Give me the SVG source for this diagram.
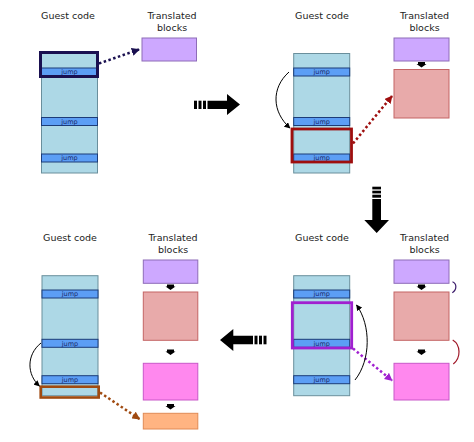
<svg xmlns="http://www.w3.org/2000/svg" width="474" height="442" viewBox="0 0 474 442">
<defs>
<style>
.lbl{font-family:"DejaVu Sans",sans-serif;font-size:9.5px;fill:#222;text-anchor:middle}
.jt{font-family:"DejaVu Sans",sans-serif;font-size:6.5px;fill:#1a2a6a;text-anchor:middle}
.col{fill:#add8e6;stroke:#6a8f9c;stroke-width:1}
.jmp{fill:#5c9ef5;stroke:#1c3c78;stroke-width:1}
.tb1{fill:#cda8ff;stroke:#8e6cb8;stroke-width:1}
.tb2{fill:#e8aaaa;stroke:#c46464;stroke-width:1}
.tb3{fill:#ff88ee;stroke:#c858c8;stroke-width:1}
.tb4{fill:#ffb482;stroke:#e08a55;stroke-width:1}
.dot{fill:none;stroke-width:2.5;stroke-dasharray:2.5 2.5}
.thin{fill:none;stroke:#000;stroke-width:1}
.big{fill:#000}
</style>
<marker id="mNavy" viewBox="0 0 10 10" refX="9" refY="5" markerWidth="8" markerHeight="8" markerUnits="userSpaceOnUse" orient="auto"><path d="M0,0 L10,5 L0,10 Z" fill="#1a1050"/></marker>
<marker id="mRed" viewBox="0 0 10 10" refX="9" refY="5" markerWidth="8" markerHeight="8" markerUnits="userSpaceOnUse" orient="auto"><path d="M0,0 L10,5 L0,10 Z" fill="#9e0e0e"/></marker>
<marker id="mBrown" viewBox="0 0 10 10" refX="9" refY="5" markerWidth="8" markerHeight="8" markerUnits="userSpaceOnUse" orient="auto"><path d="M0,0 L10,5 L0,10 Z" fill="#a04a10"/></marker>
<marker id="mPurp" viewBox="0 0 10 10" refX="9" refY="5" markerWidth="8" markerHeight="8" markerUnits="userSpaceOnUse" orient="auto"><path d="M0,0 L10,5 L0,10 Z" fill="#a020d0"/></marker>
<marker id="mBlk" viewBox="0 0 10 10" refX="9" refY="5" markerWidth="6" markerHeight="6" markerUnits="userSpaceOnUse" orient="auto"><path d="M0,0 L10,5 L0,10 Z" fill="#000"/></marker>
<path id="sa" d="M-3.5,-2.5 H3.5 V-0.5 H5 L0,3 L-5,-0.5 H-3.5 Z" fill="#000"/>
</defs>

<!-- Panel 1 -->
<g id="panel1">
<text class="lbl" x="68" y="19">Guest code</text>
<text class="lbl" x="172" y="19">Translated</text>
<text class="lbl" x="172" y="31">blocks</text>
<g id="guest1">
<rect class="col" x="41.5" y="53.5" width="56" height="119.5"/>
<rect class="jmp" x="41.5" y="68" width="56" height="8"/><text class="jt" x="69.5" y="74.3">jump</text>
<rect class="jmp" x="41.5" y="117.5" width="56" height="8"/><text class="jt" x="69.5" y="123.8">jump</text>
<rect class="jmp" x="41.5" y="154" width="56" height="8"/><text class="jt" x="69.5" y="160.3">jump</text>
<rect x="40.5" y="52.5" width="57" height="24" fill="none" stroke="#1a1050" stroke-width="3"/>
</g>
<g id="tb1a"><rect class="tb1" x="142" y="38" width="54.5" height="23"/></g>
</g>

<!-- Panel 2 -->
<g id="panel2">
<text class="lbl" x="322" y="19">Guest code</text>
<text class="lbl" x="424.5" y="19">Translated</text>
<text class="lbl" x="424.5" y="31">blocks</text>
<g id="guest2">
<rect class="col" x="293.7" y="53.5" width="56" height="119.5"/>
<rect class="jmp" x="293.7" y="68" width="56" height="8"/><text class="jt" x="321.7" y="74.3">jump</text>
<rect class="jmp" x="293.7" y="117.5" width="56" height="8"/><text class="jt" x="321.7" y="123.8">jump</text>
<rect class="jmp" x="293.7" y="154" width="56" height="8"/><text class="jt" x="321.7" y="160.3">jump</text>
<rect x="292" y="129" width="59.5" height="33" fill="none" stroke="#9e0e0e" stroke-width="2.8"/>
</g>
<g id="tb2a"><rect class="tb1" x="394" y="38" width="55" height="23"/></g>
<g id="tb2b"><rect class="tb2" x="394" y="69.5" width="55" height="48.5"/></g>
</g>

<!-- Panel 3 -->
<g id="panel3">
<text class="lbl" x="70" y="241">Guest code</text>
<text class="lbl" x="173" y="241">Translated</text>
<text class="lbl" x="173" y="253">blocks</text>
<g id="guest3">
<rect class="col" x="42" y="275.7" width="56" height="120"/>
<rect class="jmp" x="42" y="290" width="56" height="8"/><text class="jt" x="70" y="296.3">jump</text>
<rect class="jmp" x="42" y="339.3" width="56" height="8"/><text class="jt" x="70" y="345.6">jump</text>
<rect class="jmp" x="42" y="375.7" width="56" height="8"/><text class="jt" x="70" y="382">jump</text>
<rect x="40.7" y="386.7" width="58" height="10.8" fill="none" stroke="#a04a10" stroke-width="2.6"/>
</g>
<g id="tb3a"><rect class="tb1" x="143.3" y="260" width="54.5" height="23.3"/></g>
<g id="tb3b"><rect class="tb2" x="143.3" y="292" width="54.5" height="48.3"/></g>
<g id="tb3c"><rect class="tb3" x="143.3" y="363.3" width="54.5" height="36.7"/></g>
<g id="tb3d"><rect class="tb4" x="143.3" y="413.3" width="54.5" height="15.7"/></g>
</g>

<!-- Panel 4 -->
<g id="panel4">
<text class="lbl" x="322" y="241">Guest code</text>
<text class="lbl" x="424.5" y="241">Translated</text>
<text class="lbl" x="424.5" y="253">blocks</text>
<g id="guest4">
<rect class="col" x="293.7" y="275.7" width="56" height="120"/>
<rect class="jmp" x="293.7" y="290" width="56" height="8"/><text class="jt" x="321.7" y="296.3">jump</text>
<rect class="jmp" x="293.7" y="339.3" width="56" height="8"/><text class="jt" x="321.7" y="345.6">jump</text>
<rect class="jmp" x="293.7" y="375.7" width="56" height="8"/><text class="jt" x="321.7" y="382">jump</text>
<rect x="292.3" y="302.7" width="59.4" height="45.3" fill="none" stroke="#a020d0" stroke-width="2.8"/>
</g>
<g id="tb4a"><rect class="tb1" x="394" y="260" width="55" height="23.3"/></g>
<g id="tb4b"><rect class="tb2" x="394" y="292" width="55" height="48.3"/></g>
<g id="tb4c"><rect class="tb3" x="394" y="363.3" width="55" height="36.7"/></g>
</g>

<!-- Connectors -->
<g id="connectors">
<path class="dot" d="M99,63.5 L139,49.5" stroke="#1a1050" marker-end="url(#mNavy)"/>
<path class="dot" d="M353,143.5 L392,96" stroke="#9e0e0e" marker-end="url(#mRed)"/>
<path class="dot" d="M100,392.5 L139.5,419" stroke="#a04a10" marker-end="url(#mBrown)"/>
<path class="dot" d="M353,348.5 L392,380.5" stroke="#a020d0" marker-end="url(#mPurp)"/>

<path class="thin" d="M289,72 C271,88 272,112 290,128" marker-end="url(#mBlk)"/>
<path class="thin" d="M41,343 C26,355 27,375 39.5,386" marker-end="url(#mBlk)"/>
<path class="thin" d="M355,380 C371,360 371,325 356.5,305" marker-end="url(#mBlk)"/>

<path fill="none" stroke="#3a1a6a" stroke-width="1.2" d="M452.5,281.7 C457,283.5 457,290 452.3,292.7"/>
<path fill="none" stroke="#a01828" stroke-width="1.2" d="M452.7,340 C461,345 461,358 453.3,364"/>

<use href="#sa" x="421.5" y="64.5"/>
<use href="#sa" x="170.5" y="287"/>
<use href="#sa" x="170.5" y="352"/>
<use href="#sa" x="170.5" y="406.5"/>
<use href="#sa" x="421.5" y="287"/>
<use href="#sa" x="421.5" y="352"/>

<g id="bigRight" class="big">
<rect x="194" y="100.7" width="3" height="8.3"/>
<rect x="198.5" y="100.7" width="3" height="8.3"/>
<rect x="203" y="100.7" width="3" height="8.3"/>
<path d="M207.5,100.7 H227 V94 L240,104.5 L227,115 V109 H207.5 Z"/>
</g>
<g id="bigDown" class="big">
<rect x="372.3" y="186.7" width="8.7" height="2.7"/>
<rect x="372.3" y="190.7" width="8.7" height="2.7"/>
<rect x="372.3" y="194.7" width="8.7" height="3"/>
<path d="M372.3,199 H381 V220 H389 L376.7,233 L364.3,220 H372.3 Z"/>
</g>
<g id="bigLeft" class="big">
<rect x="263.5" y="335.7" width="3" height="8.6"/>
<rect x="259" y="335.7" width="3" height="8.6"/>
<rect x="254.5" y="335.7" width="3" height="8.6"/>
<path d="M253,335.7 H233.3 V329 L220,340 L233.3,351 V344.3 H253 Z"/>
</g>
</g>
</svg>
